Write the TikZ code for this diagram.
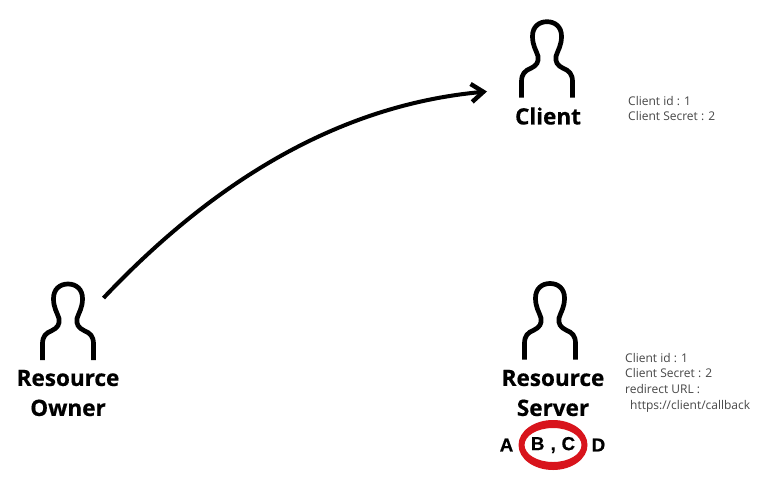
\documentclass[tikz,border=0pt]{standalone}
\usepackage{fontspec}
\usetikzlibrary{arrows.meta}
\setmainfont{Open Sans}
\newfontfamily\heavyfont[BoldFeatures={FakeBold=0.6}]{Open Sans}
\newfontfamily\arialfont[BoldFeatures={FakeBold=0.4}]{Liberation Sans}
\definecolor{ringred}{HTML}{D8141C}
\begin{document}
\begin{tikzpicture}[x=1pt,y=-1pt,
  personline/.style={line width=4.7pt,black},
  bigname/.style={font=\heavyfont\fontsize{22.5}{30}\selectfont\bfseries,align=center,inner sep=0pt,text=black},
  infotext/.style={font=\fontsize{12}{15.6}\selectfont,align=left,inner sep=0pt,text=black!72,anchor=north west},
  letter/.style={font=\arialfont\fontsize{18.8}{20}\selectfont\bfseries,inner sep=0pt,text=black},
  flow/.style={line width=4pt,-{Straight Barb[length=12pt,width=18pt,line width=4.4pt]}},
  person/.pic={
    \draw[personline] (-25.5,76) -- (-25.5,60)
      .. controls (-25.5,52) and (-22,49) .. (-16,46.5)
      .. controls (-10.5,44) and (-8,40) .. (-9,34.5)
      .. controls (-11,28) and (-14.5,24) .. (-14.5,14.5)
      .. controls (-14.5,5) and (-8,0) .. (0,0)
      .. controls (8,0) and (14.5,5) .. (14.5,14.5)
      .. controls (14.5,24) and (11,28) .. (9,34.5)
      .. controls (8,40) and (10.5,44) .. (16,46.5)
      .. controls (22,49) and (25.5,52) .. (25.5,60)
      -- (25.5,76);
  }]
\useasboundingbox (0,0) rectangle (778,482);
\fill[white] (0,0) rectangle (778,482);
\pic at (547,21.7) {person};
\pic at (68,284) {person};
\pic at (550,283.5) {person};
\coordinate (ownerhand) at (103.5,298);
\coordinate (clienthand) at (487,91.5);
\node[bigname] (clientname) at (548,116) {Client};
\node[bigname,align=center] (ownername) at (68,393) {Resource\\Owner};
\node[bigname] (servername) at (553,393) {Resource\\Server};
\node[infotext] (clientinfo) at (628,96) {Client id : 1\\Client Secret : 2};
\node[infotext] (serverinfo) at (625,353) {Client id : 1\\Client Secret : 2\\redirect URL :\\\hspace*{5pt}https://client/callback};
\node[letter] (la) at (506.5,445) {A};
\node[letter] (lbc) at (553,445) {B\hspace{1pt} ,\hspace{0.5pt} C};
\node[letter] (ld) at (598.5,445) {D};
\fill[ringred,even odd rule] (553,445) ellipse [x radius=34.5,y radius=25] (553,445) ellipse [x radius=28.5,y radius=17];
\draw[flow] (ownerhand) .. controls (215,180) and (340,105) .. (clienthand);
\end{tikzpicture}
\end{document}
